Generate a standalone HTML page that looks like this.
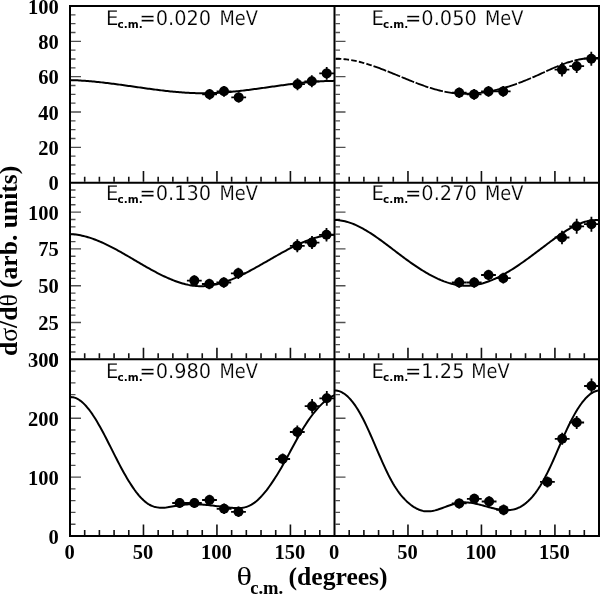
<!DOCTYPE html>
<html><head><meta charset="utf-8"><title>Angular distributions</title>
<style>html,body{margin:0;padding:0;background:#fff;}body{width:600px;height:594px;overflow:hidden;}svg{display:block;}.tl{font-family:"Liberation Serif",serif;font-weight:bold;font-size:20.5px;fill:#000;}.ti{font-family:"Liberation Serif",serif;font-weight:bold;font-size:25.6px;fill:#000;}.gr{font-weight:normal;}.pl{font-family:"DejaVu Sans","Liberation Sans",sans-serif;font-size:20.3px;fill:#000;stroke:#fff;stroke-width:0.2px;text-rendering:geometricPrecision;paint-order:normal;}.sb{font-family:"DejaVu Sans","Liberation Sans",sans-serif;font-weight:bold;font-size:10.5px;fill:#000;}</style></head><body>
<svg width="600" height="594" viewBox="0 0 600 594">
<rect width="600" height="594" fill="#fff"/>
<path d="M71,173.83H75.5M71,165H75.5M71,156.17H75.5M71,147.33H81M71,138.5H75.5M71,129.67H75.5M71,120.83H75.5M71,112H81M71,103.17H75.5M71,94.33H75.5M71,85.5H75.5M71,76.67H81M71,67.83H75.5M71,59H75.5M71,50.17H75.5M71,41.33H81M71,32.5H75.5M71,23.67H75.5M71,14.83H75.5M335.5,173.83H340M335.5,165H340M335.5,156.17H340M335.5,147.33H345.5M335.5,138.5H340M335.5,129.67H340M335.5,120.83H340M335.5,112H345.5M335.5,103.17H340M335.5,94.33H340M335.5,85.5H340M335.5,76.67H345.5M335.5,67.83H340M335.5,59H340M335.5,50.17H340M335.5,41.33H345.5M335.5,32.5H340M335.5,23.67H340M335.5,14.83H340M71,351.97H75.5M71,344.61H75.5M71,337.25H75.5M71,329.89H75.5M71,322.53H81M71,315.17H75.5M71,307.81H75.5M71,300.44H75.5M71,293.08H75.5M71,285.72H81M71,278.36H75.5M71,271H75.5M71,263.64H75.5M71,256.28H75.5M71,248.92H81M71,241.56H75.5M71,234.19H75.5M71,226.83H75.5M71,219.47H75.5M71,212.11H81M71,204.75H75.5M71,197.39H75.5M71,190.03H75.5M335.5,351.97H340M335.5,344.61H340M335.5,337.25H340M335.5,329.89H340M335.5,322.53H345.5M335.5,315.17H340M335.5,307.81H340M335.5,300.44H340M335.5,293.08H340M335.5,285.72H345.5M335.5,278.36H340M335.5,271H340M335.5,263.64H340M335.5,256.28H340M335.5,248.92H345.5M335.5,241.56H340M335.5,234.19H340M335.5,226.83H340M335.5,219.47H340M335.5,212.11H345.5M335.5,204.75H340M335.5,197.39H340M335.5,190.03H340M71,524.22H75.5M71,512.44H75.5M71,500.67H75.5M71,488.89H75.5M71,477.11H81M71,465.33H75.5M71,453.56H75.5M71,441.78H75.5M71,430H75.5M71,418.22H81M71,406.44H75.5M71,394.67H75.5M71,382.89H75.5M71,371.11H75.5M335.5,524.22H340M335.5,512.44H340M335.5,500.67H340M335.5,488.89H340M335.5,477.11H345.5M335.5,465.33H340M335.5,453.56H340M335.5,441.78H340M335.5,430H340M335.5,418.22H345.5M335.5,406.44H340M335.5,394.67H340M335.5,382.89H340M335.5,371.11H340" stroke="#505050" stroke-width="1.35" fill="none"/>
<path d="M84.69,181.67V176.67M99.39,181.67V176.67M114.08,181.67V176.67M128.78,181.67V176.67M143.47,181.67V171.07M158.17,181.67V176.67M172.86,181.67V176.67M187.56,181.67V176.67M202.25,181.67V176.67M216.94,181.67V171.07M231.64,181.67V176.67M246.33,181.67V176.67M261.03,181.67V176.67M275.72,181.67V176.67M290.42,181.67V171.07M305.11,181.67V176.67M319.81,181.67V176.67M349.19,181.67V176.67M363.89,181.67V176.67M378.58,181.67V176.67M393.28,181.67V176.67M407.97,181.67V171.07M422.67,181.67V176.67M437.36,181.67V176.67M452.06,181.67V176.67M466.75,181.67V176.67M481.44,181.67V171.07M496.14,181.67V176.67M510.83,181.67V176.67M525.53,181.67V176.67M540.22,181.67V176.67M554.92,181.67V171.07M569.61,181.67V176.67M584.31,181.67V176.67M84.69,358.33V353.33M99.39,358.33V353.33M114.08,358.33V353.33M128.78,358.33V353.33M143.47,358.33V347.73M158.17,358.33V353.33M172.86,358.33V353.33M187.56,358.33V353.33M202.25,358.33V353.33M216.94,358.33V347.73M231.64,358.33V353.33M246.33,358.33V353.33M261.03,358.33V353.33M275.72,358.33V353.33M290.42,358.33V347.73M305.11,358.33V353.33M319.81,358.33V353.33M349.19,358.33V353.33M363.89,358.33V353.33M378.58,358.33V353.33M393.28,358.33V353.33M407.97,358.33V347.73M422.67,358.33V353.33M437.36,358.33V353.33M452.06,358.33V353.33M466.75,358.33V353.33M481.44,358.33V347.73M496.14,358.33V353.33M510.83,358.33V353.33M525.53,358.33V353.33M540.22,358.33V353.33M554.92,358.33V347.73M569.61,358.33V353.33M584.31,358.33V353.33M84.69,535V530M99.39,535V530M114.08,535V530M128.78,535V530M143.47,535V524.4M158.17,535V530M172.86,535V530M187.56,535V530M202.25,535V530M216.94,535V524.4M231.64,535V530M246.33,535V530M261.03,535V530M275.72,535V530M290.42,535V524.4M305.11,535V530M319.81,535V530M349.19,535V530M363.89,535V530M378.58,535V530M393.28,535V530M407.97,535V524.4M422.67,535V530M437.36,535V530M452.06,535V530M466.75,535V530M481.44,535V524.4M496.14,535V530M510.83,535V530M525.53,535V530M540.22,535V530M554.92,535V524.4M569.61,535V530M584.31,535V530" stroke="#111" stroke-width="1.6" fill="none"/>
<path d="M70,80.1 L71.5,80.14 L73,80.18 L74.5,80.24 L76,80.3 L77.5,80.37 L79,80.45 L80.5,80.53 L82,80.63 L83.5,80.72 L85,80.83 L86.5,80.94 L88,81.06 L89.5,81.18 L91,81.31 L92.5,81.45 L94,81.59 L95.5,81.74 L97,81.89 L98.5,82.04 L100,82.21 L101.5,82.37 L103,82.54 L104.5,82.72 L106,82.89 L107.5,83.07 L109,83.26 L110.5,83.45 L112,83.64 L113.5,83.83 L115,84.03 L116.5,84.23 L118,84.43 L119.5,84.63 L121,84.84 L122.5,85.05 L124,85.26 L125.5,85.47 L127,85.68 L128.5,85.89 L130,86.1 L131.5,86.32 L133,86.53 L134.5,86.74 L136,86.96 L137.5,87.17 L139,87.38 L140.5,87.59 L142,87.81 L143.5,88.02 L145,88.22 L146.5,88.43 L148,88.64 L149.5,88.84 L151,89.04 L152.5,89.24 L154,89.44 L155.5,89.63 L157,89.83 L158.5,90.01 L160,90.2 L161.5,90.38 L163,90.56 L164.5,90.73 L166,90.9 L167.5,91.07 L169,91.23 L170.5,91.39 L172,91.54 L173.5,91.69 L175,91.83 L176.5,91.96 L178,92.09 L179.5,92.22 L181,92.34 L182.5,92.45 L184,92.55 L185.5,92.65 L187,92.75 L188.5,92.83 L190,92.91 L191.5,92.98 L193,93.04 L194.5,93.1 L196,93.14 L197.5,93.18 L199,93.21 L200.5,93.24 L202,93.25 L203.5,93.25 L205,93.25 L206.5,93.23 L208,93.21 L209.5,93.18 L211,93.13 L212.5,93.08 L214,93.03 L215.5,92.96 L217,92.88 L218.5,92.8 L220,92.71 L221.5,92.62 L223,92.51 L224.5,92.4 L226,92.29 L227.5,92.16 L229,92.03 L230.5,91.9 L232,91.76 L233.5,91.61 L235,91.46 L236.5,91.3 L238,91.14 L239.5,90.97 L241,90.8 L242.5,90.63 L244,90.45 L245.5,90.27 L247,90.08 L248.5,89.89 L250,89.7 L251.5,89.5 L253,89.31 L254.5,89.11 L256,88.9 L257.5,88.7 L259,88.49 L260.5,88.29 L262,88.08 L263.5,87.87 L265,87.66 L266.5,87.45 L268,87.24 L269.5,87.02 L271,86.81 L272.5,86.6 L274,86.39 L275.5,86.18 L277,85.97 L278.5,85.76 L280,85.56 L281.5,85.35 L283,85.15 L284.5,84.95 L286,84.75 L287.5,84.55 L289,84.36 L290.5,84.16 L292,83.98 L293.5,83.79 L295,83.61 L296.5,83.43 L298,83.26 L299.5,83.09 L301,82.93 L302.5,82.77 L304,82.61 L305.5,82.46 L307,82.32 L308.5,82.18 L310,82.04 L311.5,81.92 L313,81.8 L314.5,81.68 L316,81.57 L317.5,81.47 L319,81.38 L320.5,81.29 L322,81.21 L323.5,81.14 L325,81.08 L326.5,81.02 L328,80.97 L329.5,80.93 L331,80.9 L332.5,80.88 L334,80.87 L334.5,80.87" stroke="#000" stroke-width="2" fill="none" stroke-linejoin="round"/>
<path d="M334.5,58.74 L336,58.73 L337.5,58.74 L339,58.78 L340.5,58.85 L342,58.95 L343.5,59.07 L345,59.22 L346.5,59.39 L348,59.59 L349.5,59.81 L351,60.06 L352.5,60.33 L354,60.62 L355.5,60.93 L357,61.26 L358.5,61.61 L360,61.98 L361.5,62.37 L363,62.78 L364.5,63.2 L366,63.64 L367.5,64.1 L369,64.57 L370.5,65.05 L372,65.55 L373.5,66.06" stroke="#000" stroke-width="1.85" fill="none" stroke-dasharray="5.6 2.2" stroke-dashoffset="-1.2"/>
<path d="M373.5,66.06 L375,66.58 L376.5,67.12 L378,67.66 L379.5,68.22 L381,68.78 L382.5,69.35 L384,69.93 L385.5,70.52 L387,71.11 L388.5,71.71 L390,72.32 L391.5,72.93 L393,73.54 L394.5,74.15 L396,74.77 L397.5,75.39 L399,76.01 L400.5,76.63 L402,77.25 L403.5,77.87 L405,78.48 L406.5,79.1 L408,79.71 L409.5,80.31 L411,80.91 L412.5,81.51 L414,82.1 L415.5,82.68 L417,83.26 L418.5,83.83 L420,84.38 L421.5,84.93 L423,85.47 L424.5,86 L426,86.51 L427.5,87.02 L429,87.51 L430.5,87.98 L432,88.44 L433.5,88.89 L435,89.32 L436.5,89.73 L438,90.13 L439.5,90.51 L441,90.87 L442.5,91.21 L444,91.52 L445.5,91.82 L447,92.1 L448.5,92.36 L450,92.59 L451.5,92.8 L453,92.99 L454.5,93.15 L456,93.3 L457.5,93.42 L459,93.52 L460.5,93.6 L462,93.66 L463.5,93.7 L465,93.72 L466.5,93.72 L468,93.7 L469.5,93.66 L471,93.6 L472.5,93.52 L474,93.42 L475.5,93.31 L477,93.17 L478.5,93.02 L480,92.85 L481.5,92.66 L483,92.46 L484.5,92.23 L486,91.99 L487.5,91.74 L489,91.47 L490.5,91.18 L492,90.87 L493.5,90.55 L495,90.22 L496.5,89.86 L498,89.5 L499.5,89.12 L501,88.72 L502.5,88.31 L504,87.89 L505.5,87.45 L507,87 L508.5,86.53 L510,86.05 L511.5,85.56 L513,85.06 L514.5,84.54 L516,84.01 L517.5,83.47 L519,82.92 L520.5,82.36 L522,81.78 L523.5,81.2 L525,80.6 L526.5,79.99 L528,79.38 L529.5,78.75 L531,78.11 L532.5,77.46 L534,76.81 L535.5,76.14 L537,75.47 L538.5,74.79 L540,74.11 L541.5,73.43 L543,72.74 L544.5,72.06 L546,71.37 L547.5,70.69 L549,70.01 L550.5,69.34 L552,68.68 L553.5,68.02 L555,67.37 L556.5,66.74 L558,66.12 L559.5,65.51 L561,64.92 L562.5,64.34 L564,63.79 L565.5,63.25 L567,62.74 L568.5,62.25 L570,61.78 L571.5,61.34 L573,60.92 L574.5,60.53 L576,60.16 L577.5,59.83 L579,59.51 L580.5,59.23 L582,58.97 L583.5,58.74 L585,58.53 L586.5,58.35 L588,58.2 L589.5,58.07 L591,57.97 L592.5,57.9 L594,57.85 L595.5,57.84 L597,57.84 L598.5,57.88 L599,57.9" stroke="#000" stroke-width="1.85" fill="none" stroke-dasharray="13.5 1.6"/>
<path d="M70,234.13 L71.5,234.19 L73,234.3 L74.5,234.43 L76,234.61 L77.5,234.82 L79,235.06 L80.5,235.34 L82,235.65 L83.5,235.99 L85,236.37 L86.5,236.77 L88,237.2 L89.5,237.66 L91,238.15 L92.5,238.66 L94,239.2 L95.5,239.76 L97,240.35 L98.5,240.96 L100,241.59 L101.5,242.24 L103,242.91 L104.5,243.6 L106,244.31 L107.5,245.03 L109,245.78 L110.5,246.53 L112,247.31 L113.5,248.09 L115,248.89 L116.5,249.7 L118,250.52 L119.5,251.36 L121,252.2 L122.5,253.04 L124,253.9 L125.5,254.76 L127,255.63 L128.5,256.5 L130,257.38 L131.5,258.26 L133,259.14 L134.5,260.02 L136,260.91 L137.5,261.79 L139,262.67 L140.5,263.55 L142,264.42 L143.5,265.29 L145,266.15 L146.5,267.01 L148,267.86 L149.5,268.71 L151,269.54 L152.5,270.37 L154,271.18 L155.5,271.98 L157,272.77 L158.5,273.55 L160,274.31 L161.5,275.06 L163,275.79 L164.5,276.5 L166,277.2 L167.5,277.88 L169,278.54 L170.5,279.17 L172,279.79 L173.5,280.38 L175,280.95 L176.5,281.5 L178,282.02 L179.5,282.51 L181,282.98 L182.5,283.42 L184,283.83 L185.5,284.22 L187,284.57 L188.5,284.89 L190,285.17 L191.5,285.43 L193,285.65 L194.5,285.84 L196,285.99 L197.5,286.1 L199,286.17 L200.5,286.21 L202,286.21 L203.5,286.17 L205,286.09 L206.5,285.98 L208,285.83 L209.5,285.64 L211,285.43 L212.5,285.18 L214,284.89 L215.5,284.58 L217,284.24 L218.5,283.86 L220,283.46 L221.5,283.03 L223,282.58 L224.5,282.09 L226,281.59 L227.5,281.05 L229,280.5 L230.5,279.92 L232,279.32 L233.5,278.7 L235,278.06 L236.5,277.4 L238,276.72 L239.5,276.03 L241,275.32 L242.5,274.59 L244,273.85 L245.5,273.09 L247,272.32 L248.5,271.54 L250,270.75 L251.5,269.94 L253,269.13 L254.5,268.31 L256,267.48 L257.5,266.64 L259,265.8 L260.5,264.95 L262,264.09 L263.5,263.24 L265,262.38 L266.5,261.51 L268,260.65 L269.5,259.79 L271,258.93 L272.5,258.07 L274,257.21 L275.5,256.35 L277,255.5 L278.5,254.65 L280,253.81 L281.5,252.98 L283,252.15 L284.5,251.33 L286,250.52 L287.5,249.73 L289,248.94 L290.5,248.16 L292,247.4 L293.5,246.65 L295,245.91 L296.5,245.19 L298,244.49 L299.5,243.8 L301,243.13 L302.5,242.48 L304,241.85 L305.5,241.24 L307,240.65 L308.5,240.08 L310,239.53 L311.5,239.01 L313,238.52 L314.5,238.05 L316,237.6 L317.5,237.18 L319,236.8 L320.5,236.44 L322,236.11 L323.5,235.81 L325,235.54 L326.5,235.3 L328,235.1 L329.5,234.93 L331,234.8 L332.5,234.7 L334,234.64 L334.5,234.63" stroke="#000" stroke-width="2" fill="none" stroke-linejoin="round"/>
<path d="M334.5,220.02 L336,220.04 L337.5,220.12 L339,220.25 L340.5,220.43 L342,220.67 L343.5,220.96 L345,221.29 L346.5,221.68 L348,222.11 L349.5,222.59 L351,223.11 L352.5,223.67 L354,224.28 L355.5,224.92 L357,225.6 L358.5,226.32 L360,227.07 L361.5,227.85 L363,228.67 L364.5,229.52 L366,230.4 L367.5,231.3 L369,232.23 L370.5,233.18 L372,234.16 L373.5,235.16 L375,236.18 L376.5,237.22 L378,238.27 L379.5,239.34 L381,240.42 L382.5,241.52 L384,242.63 L385.5,243.75 L387,244.87 L388.5,246.01 L390,247.15 L391.5,248.29 L393,249.43 L394.5,250.58 L396,251.72 L397.5,252.86 L399,254 L400.5,255.14 L402,256.27 L403.5,257.39 L405,258.5 L406.5,259.6 L408,260.68 L409.5,261.76 L411,262.82 L412.5,263.87 L414,264.91 L415.5,265.93 L417,266.93 L418.5,267.92 L420,268.89 L421.5,269.84 L423,270.77 L424.5,271.68 L426,272.57 L427.5,273.44 L429,274.29 L430.5,275.11 L432,275.91 L433.5,276.68 L435,277.43 L436.5,278.15 L438,278.85 L439.5,279.51 L441,280.15 L442.5,280.75 L444,281.33 L445.5,281.87 L447,282.39 L448.5,282.87 L450,283.31 L451.5,283.72 L453,284.1 L454.5,284.43 L456,284.74 L457.5,285 L459,285.22 L460.5,285.41 L462,285.55 L463.5,285.66 L465,285.72 L466.5,285.74 L468,285.71 L469.5,285.65 L471,285.54 L472.5,285.39 L474,285.2 L475.5,284.97 L477,284.7 L478.5,284.39 L480,284.04 L481.5,283.66 L483,283.25 L484.5,282.8 L486,282.31 L487.5,281.8 L489,281.25 L490.5,280.67 L492,280.05 L493.5,279.41 L495,278.75 L496.5,278.05 L498,277.33 L499.5,276.58 L501,275.8 L502.5,275 L504,274.18 L505.5,273.33 L507,272.46 L508.5,271.57 L510,270.66 L511.5,269.74 L513,268.79 L514.5,267.82 L516,266.84 L517.5,265.84 L519,264.83 L520.5,263.8 L522,262.76 L523.5,261.71 L525,260.64 L526.5,259.56 L528,258.48 L529.5,257.38 L531,256.28 L532.5,255.16 L534,254.04 L535.5,252.92 L537,251.79 L538.5,250.65 L540,249.51 L541.5,248.37 L543,247.23 L544.5,246.09 L546,244.95 L547.5,243.81 L549,242.68 L550.5,241.55 L552,240.44 L553.5,239.33 L555,238.24 L556.5,237.16 L558,236.1 L559.5,235.06 L561,234.03 L562.5,233.03 L564,232.05 L565.5,231.1 L567,230.17 L568.5,229.27 L570,228.4 L571.5,227.57 L573,226.77 L574.5,226 L576,225.28 L577.5,224.59 L579,223.95 L580.5,223.34 L582,222.79 L583.5,222.28 L585,221.82 L586.5,221.41 L588,221.05 L589.5,220.75 L591,220.5 L592.5,220.31 L594,220.18 L595.5,220.11 L597,220.1 L598.5,220.16 L599,220.2" stroke="#000" stroke-width="2" fill="none" stroke-linejoin="round"/>
<path d="M70,397.16 L71.5,397.12 L73,397.28 L74.5,397.63 L76,398.17 L77.5,398.88 L79,399.76 L80.5,400.81 L82,402.01 L83.5,403.37 L85,404.88 L86.5,406.53 L88,408.32 L89.5,410.24 L91,412.28 L92.5,414.44 L94,416.71 L95.5,419.09 L97,421.57 L98.5,424.14 L100,426.79 L101.5,429.52 L103,432.31 L104.5,435.15 L106,438.04 L107.5,440.97 L109,443.93 L110.5,446.9 L112,449.88 L113.5,452.86 L115,455.84 L116.5,458.79 L118,461.71 L119.5,464.6 L121,467.44 L122.5,470.22 L124,472.94 L125.5,475.59 L127,478.17 L128.5,480.67 L130,483.08 L131.5,485.41 L133,487.64 L134.5,489.78 L136,491.81 L137.5,493.74 L139,495.55 L140.5,497.25 L142,498.83 L143.5,500.28 L145,501.6 L146.5,502.79 L148,503.84 L149.5,504.74 L151,505.51 L152.5,506.15 L154,506.67 L155.5,507.08 L157,507.38 L158.5,507.6 L160,507.72 L161.5,507.77 L163,507.74 L164.5,507.65 L166,507.51 L167.5,507.33 L169,507.11 L170.5,506.86 L172,506.59 L173.5,506.3 L175,506.01 L176.5,505.73 L178,505.46 L179.5,505.21 L181,504.99 L182.5,504.8 L184,504.64 L185.5,504.5 L187,504.4 L188.5,504.32 L190,504.27 L191.5,504.24 L193,504.23 L194.5,504.24 L196,504.28 L197.5,504.33 L199,504.4 L200.5,504.48 L202,504.58 L203.5,504.7 L205,504.82 L206.5,504.96 L208,505.11 L209.5,505.27 L211,505.43 L212.5,505.61 L214,505.78 L215.5,505.96 L217,506.15 L218.5,506.33 L220,506.52 L221.5,506.7 L223,506.88 L224.5,507.06 L226,507.24 L227.5,507.41 L229,507.57 L230.5,507.72 L232,507.86 L233.5,507.98 L235,508.07 L236.5,508.12 L238,508.13 L239.5,508.08 L241,507.96 L242.5,507.77 L244,507.5 L245.5,507.14 L247,506.68 L248.5,506.11 L250,505.43 L251.5,504.62 L253,503.68 L254.5,502.62 L256,501.45 L257.5,500.16 L259,498.76 L260.5,497.25 L262,495.65 L263.5,493.95 L265,492.15 L266.5,490.27 L268,488.3 L269.5,486.25 L271,484.13 L272.5,481.93 L274,479.66 L275.5,477.33 L277,474.94 L278.5,472.48 L280,469.97 L281.5,467.4 L283,464.78 L284.5,462.11 L286,459.4 L287.5,456.65 L289,453.86 L290.5,451.06 L292,448.24 L293.5,445.44 L295,442.66 L296.5,439.91 L298,437.2 L299.5,434.56 L301,431.98 L302.5,429.47 L304,427.04 L305.5,424.67 L307,422.39 L308.5,420.17 L310,418.03 L311.5,415.97 L313,414 L314.5,412.1 L316,410.28 L317.5,408.55 L319,406.91 L320.5,405.35 L322,403.88 L323.5,402.5 L325,401.21 L326.5,400.01 L328,398.91 L329.5,397.9 L331,396.99 L332.5,396.18 L334,395.47 L334.5,395.25" stroke="#000" stroke-width="2" fill="none" stroke-linejoin="round"/>
<path d="M334.5,390.41 L336,390.48 L337.5,390.72 L339,391.11 L340.5,391.67 L342,392.39 L343.5,393.27 L345,394.3 L346.5,395.5 L348,396.85 L349.5,398.36 L351,400.02 L352.5,401.84 L354,403.81 L355.5,405.93 L357,408.21 L358.5,410.63 L360,413.21 L361.5,415.93 L363,418.79 L364.5,421.79 L366,424.89 L367.5,428.1 L369,431.39 L370.5,434.74 L372,438.15 L373.5,441.61 L375,445.08 L376.5,448.57 L378,452.05 L379.5,455.52 L381,458.95 L382.5,462.33 L384,465.65 L385.5,468.89 L387,472.05 L388.5,475.09 L390,478.01 L391.5,480.8 L393,483.44 L394.5,485.93 L396,488.28 L397.5,490.49 L399,492.57 L400.5,494.52 L402,496.34 L403.5,498.05 L405,499.65 L406.5,501.14 L408,502.52 L409.5,503.81 L411,505 L412.5,506.1 L414,507.09 L415.5,507.98 L417,508.77 L418.5,509.46 L420,510.04 L421.5,510.52 L423,510.89 L424.5,511.15 L426,511.31 L427.5,511.36 L429,511.32 L430.5,511.19 L432,510.98 L433.5,510.7 L435,510.36 L436.5,509.96 L438,509.51 L439.5,509.02 L441,508.5 L442.5,507.96 L444,507.41 L445.5,506.84 L447,506.28 L448.5,505.73 L450,505.19 L451.5,504.68 L453,504.2 L454.5,503.76 L456,503.36 L457.5,503.03 L459,502.76 L460.5,502.56 L462,502.43 L463.5,502.37 L465,502.37 L466.5,502.42 L468,502.52 L469.5,502.67 L471,502.87 L472.5,503.11 L474,503.38 L475.5,503.69 L477,504.02 L478.5,504.38 L480,504.75 L481.5,505.14 L483,505.55 L484.5,505.96 L486,506.37 L487.5,506.78 L489,507.19 L490.5,507.59 L492,507.97 L493.5,508.34 L495,508.69 L496.5,509.01 L498,509.3 L499.5,509.56 L501,509.78 L502.5,509.96 L504,510.09 L505.5,510.17 L507,510.19 L508.5,510.14 L510,510.02 L511.5,509.83 L513,509.55 L514.5,509.19 L516,508.74 L517.5,508.19 L519,507.54 L520.5,506.78 L522,505.91 L523.5,504.92 L525,503.83 L526.5,502.62 L528,501.29 L529.5,499.84 L531,498.27 L532.5,496.57 L534,494.76 L535.5,492.81 L537,490.74 L538.5,488.53 L540,486.2 L541.5,483.73 L543,481.14 L544.5,478.42 L546,475.58 L547.5,472.61 L549,469.53 L550.5,466.34 L552,463.07 L553.5,459.73 L555,456.33 L556.5,452.89 L558,449.44 L559.5,445.98 L561,442.52 L562.5,439.1 L564,435.71 L565.5,432.38 L567,429.13 L568.5,425.97 L570,422.9 L571.5,419.95 L573,417.11 L574.5,414.39 L576,411.8 L577.5,409.32 L579,406.98 L580.5,404.78 L582,402.72 L583.5,400.8 L585,399.03 L586.5,397.41 L588,395.96 L589.5,394.66 L591,393.54 L592.5,392.58 L594,391.8 L595.5,391.2 L597,390.78 L598.5,390.56 L599,390.53" stroke="#000" stroke-width="2" fill="none" stroke-linejoin="round"/>
<path d="M202.2,94.3H217M209.6,88.9V99.7M216.6,91.3H231.4M224,85.9V96.7M231.3,97.4H246.1M238.7,92.2V102.6M290.1,84.2H304.9M297.5,78.2V90.2M304.4,81.3H319.2M311.8,75.3V87.3M319.3,73.4H334.1M326.7,67V79.8M451.8,92.7H466.6M459.2,87.4V98M466.7,94.4H481.5M474.1,89.1V99.7M481.1,91.4H495.9M488.5,86.1V96.7M495.8,91.4H510.6M503.2,86.1V96.7M554.6,69.6H569.4M562,62.6V76.6M569.3,66.2H584.1M576.7,59.4V73M583.9,58.7H598.7M591.3,51.7V65.7M186.9,280.6H201.7M194.3,275.3V285.9M201.9,284H216.7M209.3,278.7V289.3M216.4,282.5H231.2M223.8,277.2V287.8M230.9,273.3H245.7M238.3,267.7V278.9M289.9,245.8H304.7M297.3,239.3V252.3M304.6,242.6H319.4M312,236.1V249.1M319.1,234.8H333.9M326.5,228V241.6M451.8,282.5H466.6M459.2,277.2V287.8M466.8,282.5H481.6M474.2,277.2V287.8M481.1,275H495.9M488.5,269.7V280.3M495.9,278.2H510.7M503.3,272.8V283.6M554.6,237.5H569.4M562,230.8V244.2M569.3,226.3H584.1M576.7,218.8V233.8M584,224.2H598.8M591.4,216.7V231.7M172.2,503H187M179.6,498V508M187,503H201.8M194.4,498V508M202.1,500H216.9M209.5,494.7V505.3M216.7,508.8H231.5M224.1,503.5V514.1M231.1,511.8H245.9M238.5,506.5V517.1M275.3,459H290.1M282.7,453.5V464.5M289.9,432H304.7M297.3,425.5V438.5M304.7,406.2H319.5M312.1,399V413.4M319.4,398.3H334.2M326.8,390.9V405.7M451.8,503.4H466.6M459.2,498.4V508.4M466.9,498.8H481.7M474.3,493.8V503.8M481.7,501.5H496.5M489.1,496.2V506.8M496.2,509.9H511M503.6,504.6V515.2M540,481.9H554.8M547.4,476.4V487.4M554.8,438.8H569.6M562.2,432.8V444.8M569.3,422.5H584.1M576.7,416V429M584.1,386H598.9M591.5,378.5V393.5" stroke="#000" stroke-width="1.8" fill="none"/>
<g fill="#000"><circle cx="209.6" cy="94.3" r="5"/><circle cx="224" cy="91.3" r="5"/><circle cx="238.7" cy="97.4" r="5"/><circle cx="297.5" cy="84.2" r="5"/><circle cx="311.8" cy="81.3" r="5"/><circle cx="326.7" cy="73.4" r="5"/><circle cx="459.2" cy="92.7" r="5"/><circle cx="474.1" cy="94.4" r="5"/><circle cx="488.5" cy="91.4" r="5"/><circle cx="503.2" cy="91.4" r="5"/><circle cx="562" cy="69.6" r="5"/><circle cx="576.7" cy="66.2" r="5"/><circle cx="591.3" cy="58.7" r="5"/><circle cx="194.3" cy="280.6" r="5"/><circle cx="209.3" cy="284" r="5"/><circle cx="223.8" cy="282.5" r="5"/><circle cx="238.3" cy="273.3" r="5"/><circle cx="297.3" cy="245.8" r="5"/><circle cx="312" cy="242.6" r="5"/><circle cx="326.5" cy="234.8" r="5"/><circle cx="459.2" cy="282.5" r="5"/><circle cx="474.2" cy="282.5" r="5"/><circle cx="488.5" cy="275" r="5"/><circle cx="503.3" cy="278.2" r="5"/><circle cx="562" cy="237.5" r="5"/><circle cx="576.7" cy="226.3" r="5"/><circle cx="591.4" cy="224.2" r="5"/><circle cx="179.6" cy="503" r="5"/><circle cx="194.4" cy="503" r="5"/><circle cx="209.5" cy="500" r="5"/><circle cx="224.1" cy="508.8" r="5"/><circle cx="238.5" cy="511.8" r="5"/><circle cx="282.7" cy="459" r="5"/><circle cx="297.3" cy="432" r="5"/><circle cx="312.1" cy="406.2" r="5"/><circle cx="326.8" cy="398.3" r="5"/><circle cx="459.2" cy="503.4" r="5"/><circle cx="474.3" cy="498.8" r="5"/><circle cx="489.1" cy="501.5" r="5"/><circle cx="503.6" cy="509.9" r="5"/><circle cx="547.4" cy="481.9" r="5"/><circle cx="562.2" cy="438.8" r="5"/><circle cx="576.7" cy="422.5" r="5"/><circle cx="591.5" cy="386" r="5"/></g>
<path d="M69,6H600M70,182.67H599M70,359.33H599M69,536H600M70,6V536M334.5,6V536M599,6V536" stroke="#000" stroke-width="2" fill="none"/>
<text class="pl" transform="translate(105.9,25) scale(0.97,1)">E</text>
<text class="sb" x="117.5" y="27.8">c.m.</text>
<text class="pl" transform="translate(139.5,25) scale(0.955,1)">=0.020</text>
<text class="pl" transform="translate(219.4,25) scale(0.875,1)">MeV</text>
<text class="pl" transform="translate(371.5,25) scale(0.97,1)">E</text>
<text class="sb" x="383.1" y="27.8">c.m.</text>
<text class="pl" transform="translate(405.1,25) scale(0.955,1)">=0.050</text>
<text class="pl" transform="translate(485,25) scale(0.875,1)">MeV</text>
<text class="pl" transform="translate(105.9,200.4) scale(0.97,1)">E</text>
<text class="sb" x="117.5" y="203.2">c.m.</text>
<text class="pl" transform="translate(139.5,200.4) scale(0.955,1)">=0.130</text>
<text class="pl" transform="translate(219.4,200.4) scale(0.875,1)">MeV</text>
<text class="pl" transform="translate(371.5,200.4) scale(0.97,1)">E</text>
<text class="sb" x="383.1" y="203.2">c.m.</text>
<text class="pl" transform="translate(405.1,200.4) scale(0.955,1)">=0.270</text>
<text class="pl" transform="translate(485,200.4) scale(0.875,1)">MeV</text>
<text class="pl" transform="translate(105.9,378) scale(0.97,1)">E</text>
<text class="sb" x="117.5" y="380.8">c.m.</text>
<text class="pl" transform="translate(139.5,378) scale(0.955,1)">=0.980</text>
<text class="pl" transform="translate(219.4,378) scale(0.875,1)">MeV</text>
<text class="pl" transform="translate(371.5,378) scale(0.97,1)">E</text>
<text class="sb" x="383.1" y="380.8">c.m.</text>
<text class="pl" transform="translate(405.1,378) scale(0.955,1)">=1.25</text>
<text class="pl" transform="translate(471.2,378) scale(0.875,1)">MeV</text>
<text class="tl" x="58.7" y="190.17" text-anchor="end">0</text>
<text class="tl" x="58.7" y="154.83" text-anchor="end">20</text>
<text class="tl" x="58.7" y="119.5" text-anchor="end">40</text>
<text class="tl" x="58.7" y="84.17" text-anchor="end">60</text>
<text class="tl" x="58.7" y="48.83" text-anchor="end">80</text>
<text class="tl" x="58.7" y="13.5" text-anchor="end">100</text>
<text class="tl" x="58.7" y="366.83" text-anchor="end">0</text>
<text class="tl" x="58.7" y="330.03" text-anchor="end">25</text>
<text class="tl" x="58.7" y="293.22" text-anchor="end">50</text>
<text class="tl" x="58.7" y="256.42" text-anchor="end">75</text>
<text class="tl" x="58.7" y="219.61" text-anchor="end">100</text>
<text class="tl" x="58.7" y="543.5" text-anchor="end">0</text>
<text class="tl" x="58.7" y="484.61" text-anchor="end">100</text>
<text class="tl" x="58.7" y="425.72" text-anchor="end">200</text>
<text class="tl" x="58.7" y="366.83" text-anchor="end">300</text>
<text class="tl" x="69.5" y="559.4" text-anchor="middle">0</text>
<text class="tl" x="142.97" y="559.4" text-anchor="middle">50</text>
<text class="tl" x="216.44" y="559.4" text-anchor="middle">100</text>
<text class="tl" x="289.92" y="559.4" text-anchor="middle">150</text>
<text class="tl" x="334" y="559.4" text-anchor="middle">0</text>
<text class="tl" x="407.47" y="559.4" text-anchor="middle">50</text>
<text class="tl" x="480.94" y="559.4" text-anchor="middle">100</text>
<text class="tl" x="554.42" y="559.4" text-anchor="middle">150</text>
<text class="ti gr" transform="translate(236.4,585.3) scale(1.26,0.99)">θ</text>
<text class="ti" x="250.2" y="593.5" style="font-size:18.6px">c.m.</text>
<text class="ti" x="288.6" y="585.3">(degrees)</text>
<text class="ti" transform="translate(17.1,356) rotate(-90)" x="0" y="0">d<tspan class="gr">σ</tspan>/d<tspan class="gr">θ</tspan> (arb. units)</text>
</svg>
</body></html>
